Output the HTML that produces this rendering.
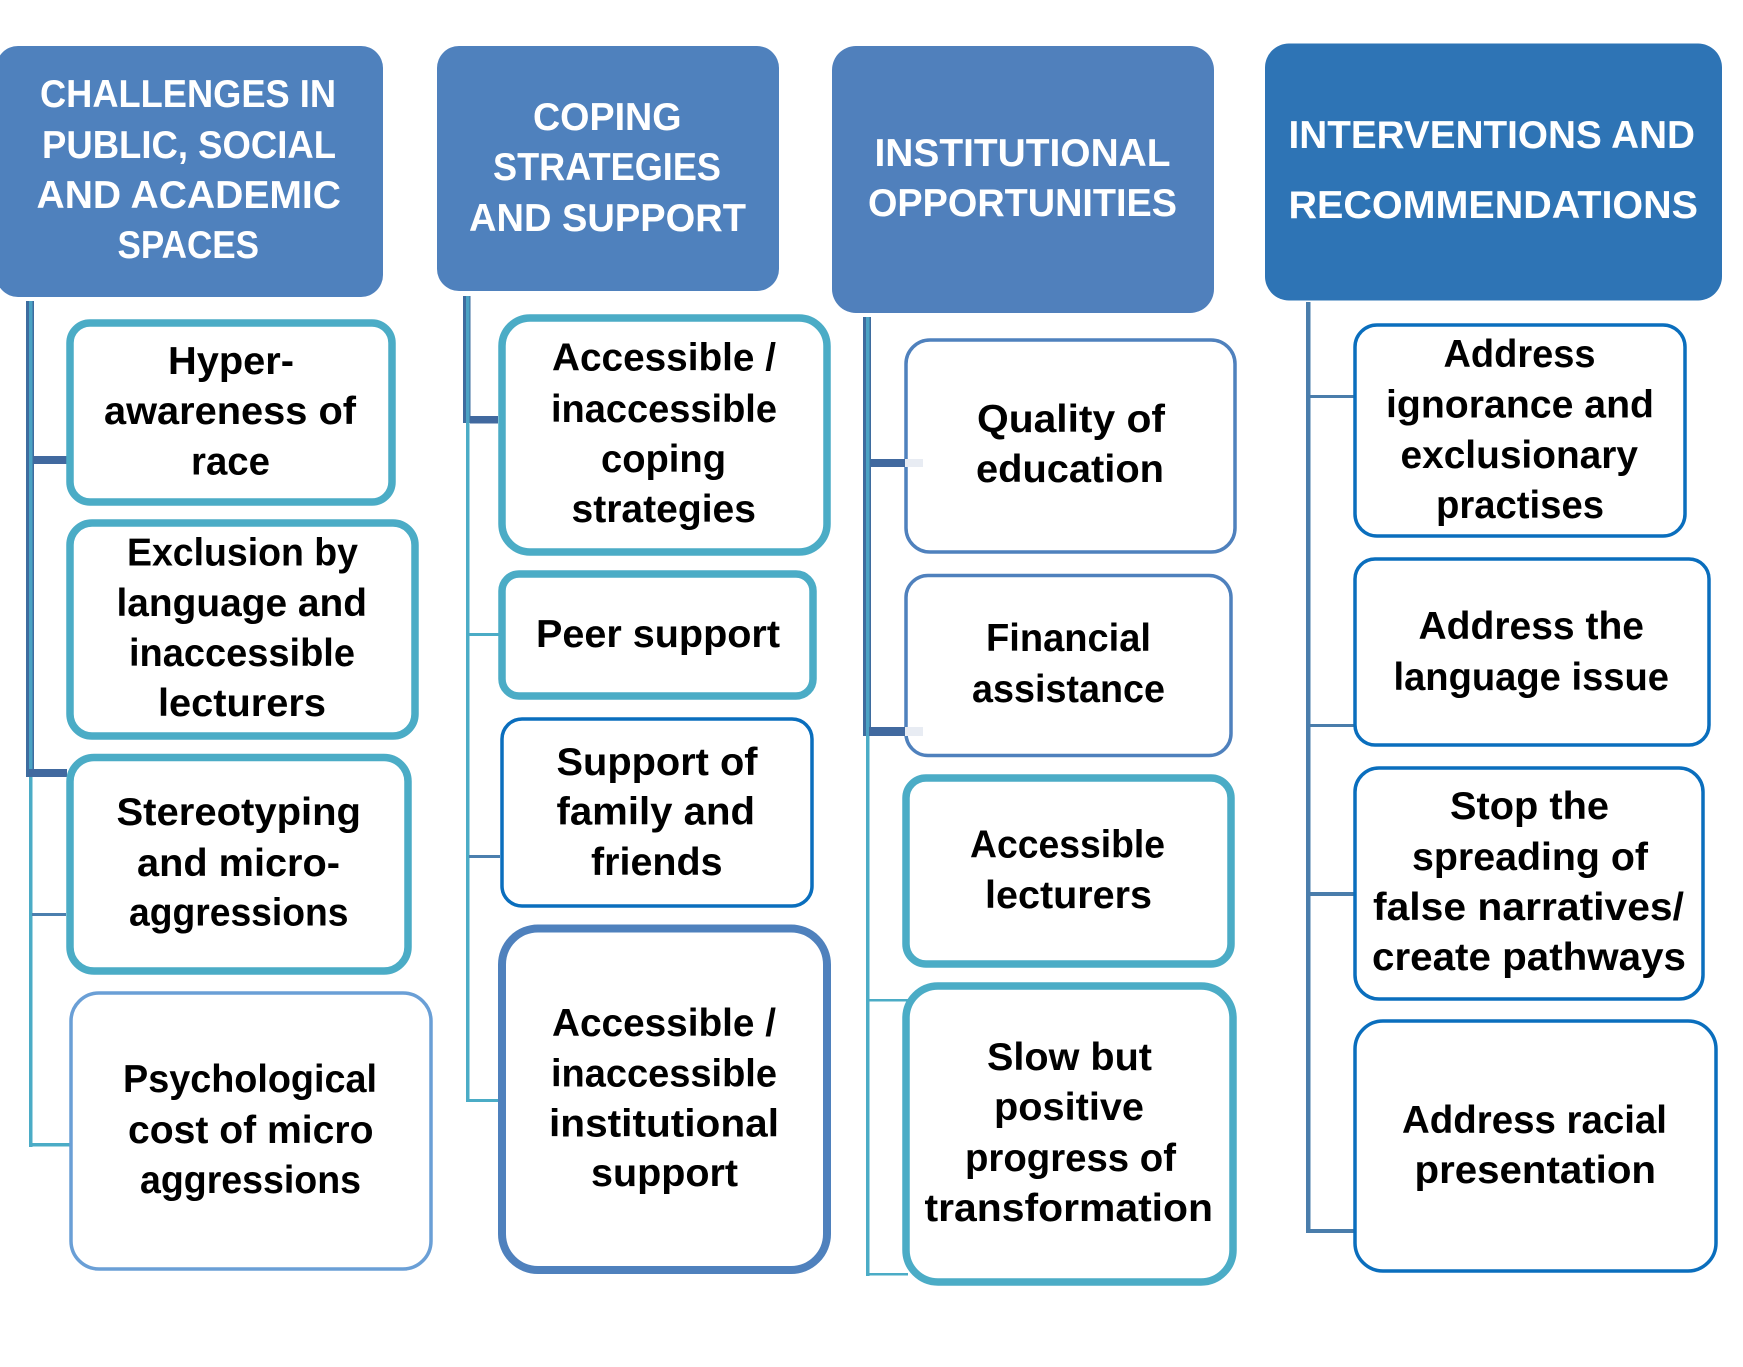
<!DOCTYPE html>
<html><head><meta charset="utf-8"><style>
html,body{margin:0;padding:0;background:#fff}
svg{display:block}
text{font-family:"Liberation Sans",sans-serif;font-weight:700;font-size:38.5px;fill:#000}
.w text{fill:#fff}
rect{fill:#fff}
.t{stroke:#4bacc6;stroke-width:7.5}
.b{stroke:#0a6ebd;stroke-width:3.5}
.s{stroke:#4f81bd;stroke-width:3.5}
.hd{stroke:none}
</style></head><body>
<svg width="1743" height="1367" viewBox="0 0 1743 1367" xmlns="http://www.w3.org/2000/svg">
<rect width="1743" height="1367" style="fill:#fff"/>

<!-- connectors A -->
<g stroke="none">
<rect x="26" y="301" width="8" height="476" style="fill:#3e6c9f"/>
<rect x="29" y="301" width="3.5" height="476" style="fill:#4ba3c4"/>
<rect x="29" y="777" width="3.5" height="370" style="fill:#4bacc6"/>
<rect x="29" y="1143" width="42" height="3.5" style="fill:#4bacc6"/>
<rect x="34" y="456" width="33" height="8" style="fill:#41699f"/>
<rect x="29" y="769" width="38" height="8" style="fill:#41699f"/>
<rect x="32" y="913" width="34" height="3" style="fill:#4b7fae"/>
<!-- connectors B -->
<rect x="463" y="296" width="7.5" height="127" style="fill:#3e6c9f"/>
<rect x="466" y="296" width="3.5" height="127" style="fill:#4ba3c4"/>
<rect x="466" y="423" width="3.5" height="679" style="fill:#4bacc6"/>
<rect x="470" y="416" width="28" height="7.5" style="fill:#41699f"/>
<rect x="469" y="633" width="30" height="3" style="fill:#4bacc6"/>
<rect x="469" y="855" width="31" height="3" style="fill:#4b7fae"/>
<rect x="466" y="1099" width="33" height="3" style="fill:#4bacc6"/>
<!-- connectors C -->
<rect x="863" y="317" width="8" height="419" style="fill:#3e6c9f"/>
<rect x="866" y="317" width="3.5" height="419" style="fill:#4ba3c4"/>
<rect x="866" y="736" width="3.5" height="540" style="fill:#4bacc6"/>
<rect x="866" y="999" width="42" height="2.5" style="fill:#4bacc6"/>
<rect x="866" y="1273" width="42" height="2.5" style="fill:#4bacc6"/>
<!-- connectors D -->
<rect x="1306" y="302" width="4.5" height="931" style="fill:#4a7dab"/>
<rect x="1306" y="395" width="48" height="3" style="fill:#4a7dab"/>
<rect x="1306" y="724" width="48" height="3" style="fill:#4a7dab"/>
<rect x="1306" y="892" width="48" height="4" style="fill:#4a7dab"/>
<rect x="1306" y="1229" width="48" height="4" style="fill:#4a7dab"/>
</g>

<!-- headers -->
<rect class="hd" x="-4" y="46" width="387" height="251" rx="22" style="fill:#4f81bd"/>
<rect class="hd" x="437" y="46" width="342" height="245" rx="22" style="fill:#4f81bd"/>
<rect class="hd" x="832" y="46" width="382" height="267" rx="24" style="fill:#5080bc"/>
<rect class="hd" x="1265" y="43.5" width="457" height="257" rx="24" style="fill:#2e74b5"/>

<!-- boxes -->
<rect class="t" x="70" y="323" width="322" height="179" rx="20"/>
<rect class="t" x="70" y="523" width="345" height="213" rx="22"/>
<rect class="t" x="70" y="757.5" width="338" height="213.500" rx="24"/>
<rect x="71" y="993" width="360" height="276" rx="28" style="stroke:#6a9fd6;stroke-width:3.500"/>

<rect class="t" x="502" y="318" width="325" height="234" rx="28"/>
<rect class="t" x="502" y="574" width="311" height="122" rx="17"/>
<rect class="b" x="502" y="719" width="310" height="187" rx="20"/>
<rect x="502" y="928.500" width="325" height="341.500" rx="36" style="stroke:#4f81bd;stroke-width:8"/>

<rect class="s" x="906" y="340" width="329" height="212" rx="24"/>
<rect class="s" x="906" y="575.500" width="325" height="180" rx="22"/>
<rect class="t" x="906" y="778" width="325" height="186" rx="20"/>
<rect class="t" x="906" y="986" width="327" height="296" rx="32"/>

<rect class="b" x="1355" y="325" width="330" height="211" rx="22"/>
<rect class="b" x="1355" y="559" width="354" height="186" rx="20"/>
<rect class="b" x="1355" y="768" width="348" height="231" rx="24"/>
<rect class="b" x="1355" y="1021" width="361" height="250" rx="28"/>

<!-- connector stubs over boxes C -->
<g stroke="none">
<rect x="905" y="459" width="18" height="8" style="fill:#e8ecf3"/>
<rect x="905" y="727" width="18" height="9" style="fill:#e8ecf3"/>
<rect x="871" y="459" width="34" height="8" style="fill:#41699f"/>
<rect x="869" y="727" width="36" height="9" style="fill:#41699f"/>
</g>

<!-- header text -->
<g class="w" lengthAdjust="spacingAndGlyphs">
<text x="40" y="107" textLength="296" lengthAdjust="spacingAndGlyphs">CHALLENGES IN</text>
<text x="42" y="158" textLength="294" lengthAdjust="spacingAndGlyphs">PUBLIC, SOCIAL</text>
<text x="36.500" y="208" textLength="304.500" lengthAdjust="spacingAndGlyphs">AND ACADEMIC</text>
<text x="117.500" y="258" textLength="141.500" lengthAdjust="spacingAndGlyphs">SPACES</text>
<text x="533" y="130" textLength="148.500" lengthAdjust="spacingAndGlyphs">COPING</text>
<text x="493" y="180" textLength="228" lengthAdjust="spacingAndGlyphs">STRATEGIES</text>
<text x="469" y="231" textLength="277" lengthAdjust="spacingAndGlyphs">AND SUPPORT</text>
<text x="874.500" y="166" textLength="296" lengthAdjust="spacingAndGlyphs">INSTITUTIONAL</text>
<text x="868" y="216" textLength="309" lengthAdjust="spacingAndGlyphs">OPPORTUNITIES</text>
<text x="1288.500" y="148" textLength="406.500" lengthAdjust="spacingAndGlyphs">INTERVENTIONS AND</text>
<text x="1288.500" y="218" textLength="409.500" lengthAdjust="spacingAndGlyphs">RECOMMENDATIONS</text>
</g>

<!-- column A -->
<text x="168" y="374" textLength="126" lengthAdjust="spacingAndGlyphs">Hyper-</text>
<text x="104" y="424" textLength="252" lengthAdjust="spacingAndGlyphs">awareness of</text>
<text x="191" y="474.500" textLength="79" lengthAdjust="spacingAndGlyphs">race</text>
<text x="127" y="565.500" textLength="231" lengthAdjust="spacingAndGlyphs">Exclusion by</text>
<text x="116.500" y="616" textLength="250.500" lengthAdjust="spacingAndGlyphs">language and</text>
<text x="129" y="666" textLength="226" lengthAdjust="spacingAndGlyphs">inaccessible</text>
<text x="158" y="716" textLength="168" lengthAdjust="spacingAndGlyphs">lecturers</text>
<text x="116.500" y="825" textLength="244.500" lengthAdjust="spacingAndGlyphs">Stereotyping</text>
<text x="137" y="876" textLength="203" lengthAdjust="spacingAndGlyphs">and micro-</text>
<text x="129" y="925.500" textLength="219.500" lengthAdjust="spacingAndGlyphs">aggressions</text>
<text x="123" y="1092" textLength="254" lengthAdjust="spacingAndGlyphs">Psychological</text>
<text x="128" y="1143" textLength="245.500" lengthAdjust="spacingAndGlyphs">cost of micro</text>
<text x="140" y="1193" textLength="221" lengthAdjust="spacingAndGlyphs">aggressions</text>

<!-- column B -->
<text x="552" y="370.500" textLength="224" lengthAdjust="spacingAndGlyphs">Accessible /</text>
<text x="551" y="422" textLength="226" lengthAdjust="spacingAndGlyphs">inaccessible</text>
<text x="601" y="472" textLength="125" lengthAdjust="spacingAndGlyphs">coping</text>
<text x="571.500" y="522" textLength="184.500" lengthAdjust="spacingAndGlyphs">strategies</text>
<text x="536" y="647" textLength="244" lengthAdjust="spacingAndGlyphs">Peer support</text>
<text x="556.500" y="775" textLength="201" lengthAdjust="spacingAndGlyphs">Support of</text>
<text x="556.500" y="824.500" textLength="198.500" lengthAdjust="spacingAndGlyphs">family and</text>
<text x="591" y="875" textLength="131.500" lengthAdjust="spacingAndGlyphs">friends</text>
<text x="552" y="1036" textLength="224" lengthAdjust="spacingAndGlyphs">Accessible /</text>
<text x="551" y="1086.500" textLength="226" lengthAdjust="spacingAndGlyphs">inaccessible</text>
<text x="549" y="1136.500" textLength="230" lengthAdjust="spacingAndGlyphs">institutional</text>
<text x="591" y="1186" textLength="147" lengthAdjust="spacingAndGlyphs">support</text>

<!-- column C -->
<text x="977" y="432" textLength="188" lengthAdjust="spacingAndGlyphs">Quality of</text>
<text x="976" y="482" textLength="188" lengthAdjust="spacingAndGlyphs">education</text>
<text x="986" y="651" textLength="165" lengthAdjust="spacingAndGlyphs">Financial</text>
<text x="972" y="702" textLength="193" lengthAdjust="spacingAndGlyphs">assistance</text>
<text x="970" y="857.500" textLength="195" lengthAdjust="spacingAndGlyphs">Accessible</text>
<text x="985" y="908" textLength="167" lengthAdjust="spacingAndGlyphs">lecturers</text>
<text x="987" y="1070" textLength="165" lengthAdjust="spacingAndGlyphs">Slow but</text>
<text x="994" y="1120" textLength="150" lengthAdjust="spacingAndGlyphs">positive</text>
<text x="965" y="1171" textLength="211" lengthAdjust="spacingAndGlyphs">progress of</text>
<text x="924.500" y="1221" textLength="288.500" lengthAdjust="spacingAndGlyphs">transformation</text>

<!-- column D -->
<text x="1443.500" y="367" textLength="152" lengthAdjust="spacingAndGlyphs">Address</text>
<text x="1386" y="417.500" textLength="268" lengthAdjust="spacingAndGlyphs">ignorance and</text>
<text x="1400.500" y="468" textLength="237.500" lengthAdjust="spacingAndGlyphs">exclusionary</text>
<text x="1436" y="518" textLength="168" lengthAdjust="spacingAndGlyphs">practises</text>
<text x="1418.500" y="639" textLength="225.500" lengthAdjust="spacingAndGlyphs">Address the</text>
<text x="1393.500" y="690" textLength="275.500" lengthAdjust="spacingAndGlyphs">language issue</text>
<text x="1450" y="819" textLength="159" lengthAdjust="spacingAndGlyphs">Stop the</text>
<text x="1412" y="870" textLength="236" lengthAdjust="spacingAndGlyphs">spreading of</text>
<text x="1373" y="920" textLength="311" lengthAdjust="spacingAndGlyphs">false narratives/</text>
<text x="1372" y="970" textLength="314" lengthAdjust="spacingAndGlyphs">create pathways</text>
<text x="1402" y="1133" textLength="265" lengthAdjust="spacingAndGlyphs">Address racial</text>
<text x="1414.500" y="1183" textLength="241.500" lengthAdjust="spacingAndGlyphs">presentation</text>
</svg>
</body></html>
